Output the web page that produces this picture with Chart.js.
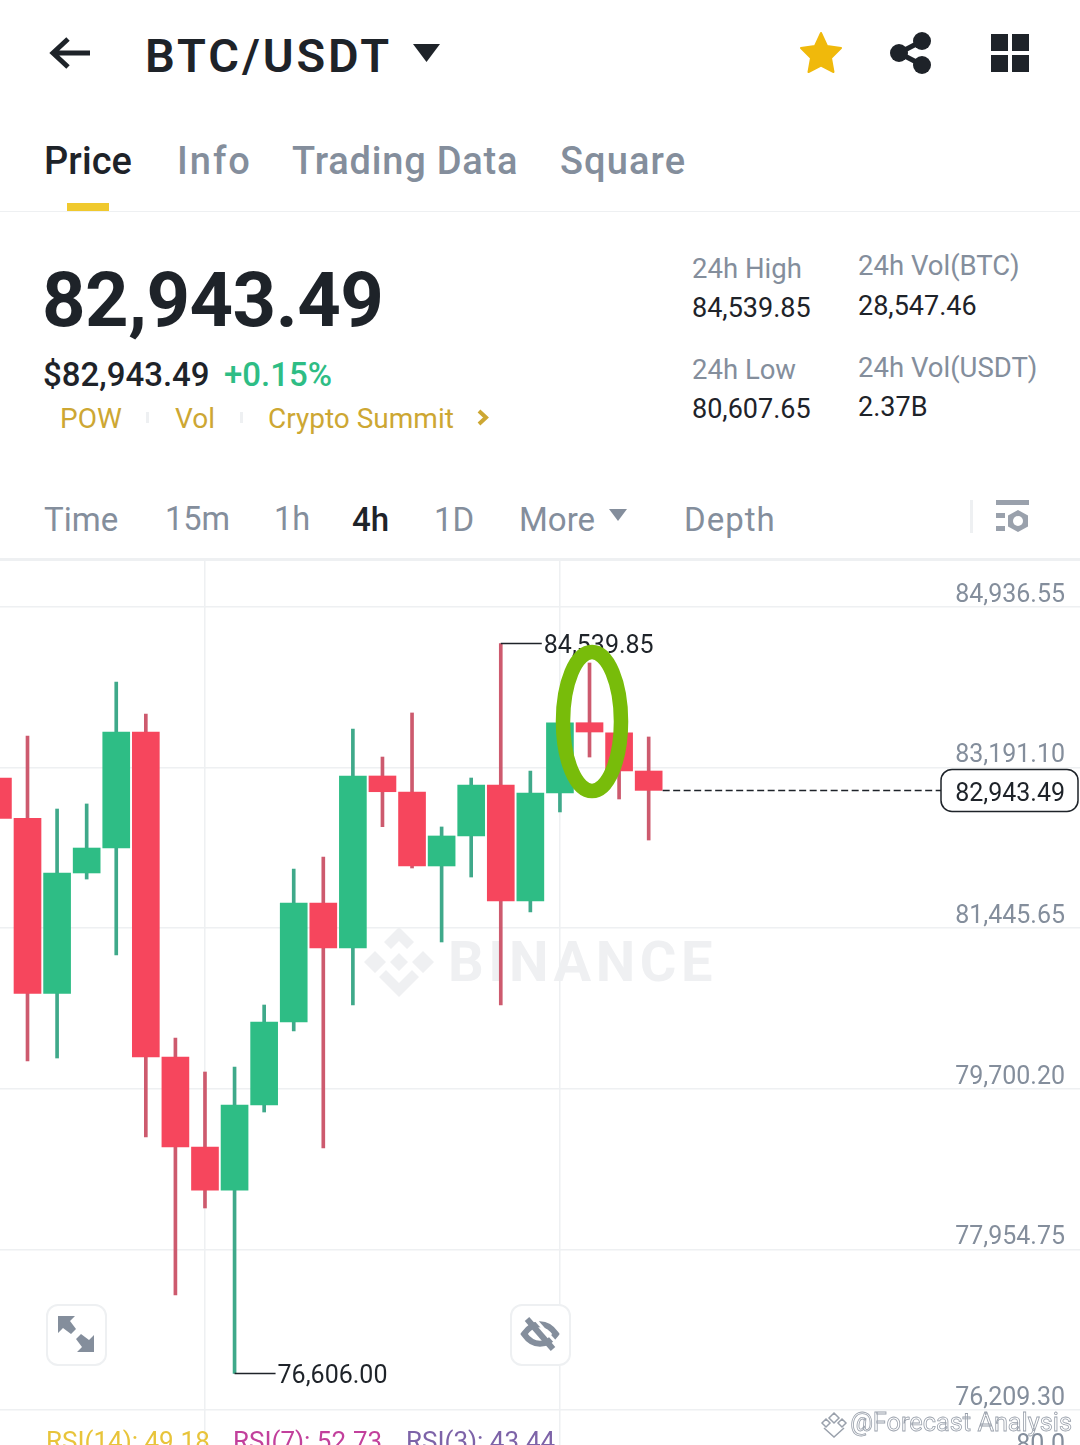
<!DOCTYPE html>
<html>
<head>
<meta charset="utf-8">
<title>BTC/USDT</title>
<script src="https://cdn.jsdelivr.net/npm/chart.js@4"></script>
<style>
    html, body { margin: 0; padding: 0; background: #fff; }
    #page { position: relative; width: 1080px; height: 1445px; overflow: hidden; font-family: Roboto, sans-serif; color: #1e2329; }
    .t { position: absolute; white-space: nowrap; line-height: 1; }
    .gray { color: #848e9c; }
    .gold { color: #cda733; }
    .rule { position: absolute; background: #eef0f2; }
    svg { position: absolute; overflow: visible; }
    #wrap { position: absolute; left: 0; top: 560px; width: 1080px; height: 885px; }
    .btn { position: absolute; width: 57px; height: 58px; top: 1304px; border: 2px solid #eef0f2; border-radius: 12px; background: #fff; }
</style>
</head>
<body>
<div id="page">
    <!-- top bar -->
    <svg style="left:48px;top:36px" width="44" height="34"><path d="M42 17H5M20 3L5 17l15 14" fill="none" stroke="#1e2329" stroke-width="5"/></svg>
    <div class="t" style="left:145px;top:32px;font-size:47px;font-weight:600;letter-spacing:2.900px">BTC/USDT</div>
    <svg style="left:413px;top:44px" width="27" height="18"><path d="M0 0h27L13.500 18z" fill="#1e2329"/></svg>
    <svg style="left:800px;top:31px" width="42" height="42"><path d="M21 2l6 13 14 2-10 10 2.500 14L21 34.500 8.500 41 11 27 1 17l14-2z" fill="#f0b90b" stroke="#f0b90b" stroke-width="2" stroke-linejoin="round"/></svg>
    <svg style="left:890px;top:31px" width="42" height="44"><path d="M32 10L9 22l23 12" fill="none" stroke="#1e2329" stroke-width="5"/><circle cx="32" cy="10" r="9" fill="#1e2329"/><circle cx="9" cy="22" r="9" fill="#1e2329"/><circle cx="32" cy="34" r="9" fill="#1e2329"/></svg>
    <svg style="left:991px;top:34px" width="38" height="38"><path d="M0 0h17v17H0zM21 0h17v17H21zM0 21h17v17H0zM21 21h17v17H21z" fill="#1e2329"/></svg>

    <!-- tabs -->
    <div class="t" style="left:44px;top:142px;font-size:38px;font-weight:500;letter-spacing:.1px">Price</div>
    <div class="t gray" style="left:177px;top:142px;font-size:38px;font-weight:500;letter-spacing:2px">Info</div>
    <div class="t gray" style="left:292px;top:142px;font-size:38px;font-weight:500;letter-spacing:.8px">Trading Data</div>
    <div class="t gray" style="left:560px;top:142px;font-size:38px;font-weight:500;letter-spacing:1.100px">Square</div>
    <div style="position:absolute;left:67px;top:203px;width:42px;height:8px;background:#f0c92e"></div>
    <div class="rule" style="left:0;top:211px;width:1080px;height:1px"></div>

    <!-- price block -->
    <div class="t" style="left:42px;top:262px;font-size:76px;font-weight:700;letter-spacing:-.5px">82,943.49</div>
    <div class="t" style="left:43px;top:358px;font-size:33px;font-weight:500">$82,943.49</div>
    <div class="t" style="left:224px;top:358px;font-size:33px;font-weight:500;color:#2ebd85">+0.15%</div>
    <div class="t gold" style="left:60px;top:405px;font-size:28px">POW</div>
    <div class="t gold" style="left:175px;top:405px;font-size:28px">Vol</div>
    <div class="t gold" style="left:268px;top:405px;font-size:28px">Crypto Summit</div>
    <div class="rule" style="left:146px;top:412px;width:3px;height:11px"></div>
    <div class="rule" style="left:240px;top:412px;width:3px;height:11px"></div>
    <svg style="left:477px;top:409px" width="12" height="17"><path d="M2 2l7 6.500-7 6.500" fill="none" stroke="#cda733" stroke-width="4"/></svg>

    <!-- 24h stats -->
    <div class="t gray" style="left:692px;top:255px;font-size:27.500px">24h High</div>
    <div class="t" style="left:692px;top:295px;font-size:27px">84,539.85</div>
    <div class="t gray" style="left:692px;top:356px;font-size:27.500px">24h Low</div>
    <div class="t" style="left:692px;top:396px;font-size:27px">80,607.65</div>
    <div class="t gray" style="left:858px;top:252px;font-size:27.500px">24h Vol(BTC)</div>
    <div class="t" style="left:858px;top:293px;font-size:27px">28,547.46</div>
    <div class="t gray" style="left:858px;top:354px;font-size:27.500px">24h Vol(USDT)</div>
    <div class="t" style="left:858px;top:394px;font-size:27px">2.37B</div>

    <!-- interval row -->
    <div class="t gray" style="left:44px;top:503px;font-size:33px">Time</div>
    <div class="t gray" style="left:165px;top:503px;font-size:32.500px">15m</div>
    <div class="t gray" style="left:274px;top:503px;font-size:32.500px">1h</div>
    <div class="t" style="left:352px;top:503px;font-size:33px;font-weight:500">4h</div>
    <div class="t gray" style="left:434px;top:503px;font-size:33px">1D</div>
    <div class="t gray" style="left:519px;top:503px;font-size:33px">More</div>
    <svg style="left:609px;top:509px" width="18" height="12"><path d="M0 0h18L9 12z" fill="#848e9c"/></svg>
    <div class="t gray" style="left:684px;top:503px;font-size:33px;letter-spacing:1px">Depth</div>
    <div class="rule" style="left:970px;top:500px;width:3px;height:33px"></div>
    <svg style="left:996px;top:500px" width="34" height="34"><path d="M0 0h33v5H0zM0 13h9v5H0zM0 26h9v5H0z" fill="#9aa1ac"/><path d="M22 10l10 5.500v11L22 32l-10-5.500v-11z" fill="#9aa1ac"/><circle cx="22" cy="21" r="5" fill="#fff"/></svg>
    <div class="rule" style="left:0;top:558px;width:1080px;height:3px"></div>

    <!-- watermark under the candles -->
    <svg style="left:364px;top:927px" width="70" height="70" fill="#eff0f2"><path d="M35 0l15 15-7 7-8-8-8 8-7-7zM11 24l11 11-11 11L0 35zM59 24l11 11-11 11-11-11zM35 26l9 9-9 9-9-9zM15 50l7-7 13 13 13-13 7 7-20 20z"/></svg>
    <div class="t" style="left:448px;top:934px;font-size:56px;font-weight:700;letter-spacing:4.500px;color:#eff0f2">BINANCE</div>

    <div id="wrap"><canvas id="myChart"></canvas></div>

    <!-- hand drawn mark on the doji -->
    <svg style="left:0;top:0" width="1080" height="1445"><ellipse cx="592" cy="721.500" rx="29" ry="69.500" fill="none" stroke="#78bc0a" stroke-width="14.500"/></svg>

    <!-- chart buttons -->
    <div class="btn" style="left:46px"></div>
    <svg style="left:58px;top:1316px" width="36" height="36" fill="#848e9c"><path d="M0 0h17l-5 5 6 8-5 5-8-6-5 5zM36 36H19l5-5-6-8 5-5 8 6 5-5z"/></svg>
    <div class="btn" style="left:510px"></div>
    <svg style="left:521px;top:1317px" width="38" height="34"><path d="M3 17C12 4 26 4 35 17 26 30 12 30 3 17z" fill="none" stroke="#848e9c" stroke-width="6"/><path d="M6 2l26 30" stroke="#848e9c" stroke-width="6"/><path d="M13 1L37 28" stroke="#fff" stroke-width="3"/></svg>

    <!-- RSI pane, cut off by the bottom of the screen -->
    <div class="t" style="left:46px;top:1428px;font-size:26px;color:#e8c43a">RSI(14): 49.18</div>
    <div class="t" style="left:233px;top:1428px;font-size:26px;color:#c2409c">RSI(7): 52.73</div>
    <div class="t" style="left:406px;top:1428px;font-size:26px;color:#7d63a8">RSI(3): 43.44</div>
    <div class="t gray" style="right:15px;top:1431px;font-size:25px">80.0</div>
    <svg style="left:820px;top:1412px" width="28" height="26" fill="none" stroke="#9aa1ac" stroke-width="1.500"><path d="M14 1l5 5-5 5-5-5zM6 7l4 4-4 4-4-4zM22 7l4 4-4 4-4-4zM4 16l10 9 10-9"/></svg>
    <div class="t" style="right:8px;top:1410px;font-size:25.300px;color:#fff;-webkit-text-stroke:0.8px #9aa1ac">@Forecast Analysis</div>
</div>
<script>
const candles = ['c1','c2','c3','c4','c5','c6','c7','c8','c9','c10','c11','c12','c13','c14','c15','c16','c17','c18','c19','c20','c21','c22','c23'];
const opens = [83078,82640,80736,82046,82317,83578,80046,79068,78600,79524,80426,81720,81231,83100,82926,82122,82448,83002,81741,82915,83679,83570,83154];
const closes = [82640,80736,82046,82317,83578,80046,79068,78600,79524,80426,81720,81231,83100,82929,82122,82448,83002,81741,82915,83679,83578,83154,82943.49];
const highs = [83078,83535,82741,82796,84121,83774,80252,79883,79937,80611,82089,82220,83611,83306,83785,82546,83078,84539.85,83154,83679,84328,83570,83524];
const lows = [82640,80002,80035,81980,81155,79177,77459,78405,76606,79448,80329,79057,80611,82549,82100,81296,82002,80611,81622,82709,83306,82850,82404];
const priceTicks = [84936.55,83191.10,81445.65,79700.20,77954.75,76209.30];
const timeGrid = [7,19];
const lastPrice = 82943.49;
const highLabel = 84539.85;
const lowLabel = 76606.00;

function fmt(v) {
    return v.toLocaleString('en-US', {minimumFractionDigits: 2, maximumFractionDigits: 2});
}

function isUp(i) {
    return closes[i] >= opens[i];
}

// high/low callouts and the last price tag
const priceMarks = {
    id: 'priceMarks',
    afterDatasetsDraw(chart) {
        const {ctx, scales: {x, y}} = chart;
        ctx.save();
        ctx.font = '25px Roboto';
        ctx.textBaseline = 'middle';

        // callouts
        [[highLabel, highs.indexOf(highLabel)], [lowLabel, lows.indexOf(lowLabel)]].forEach(([v, i]) => {
            const px = x.getPixelForValue(i);
            const py = y.getPixelForValue(v);
            ctx.strokeStyle = '#1e2329';
            ctx.lineWidth = 1.5;
            ctx.beginPath();
            ctx.moveTo(px, py);
            ctx.lineTo(px + 41, py);
            ctx.stroke();
            ctx.fillStyle = '#1e2329';
            ctx.textAlign = 'left';
            ctx.fillText(fmt(v), px + 43, py + 3);
        });

        // last price
        const py = y.getPixelForValue(lastPrice);
        const px = x.getPixelForValue(closes.length - 1) + 14;
        ctx.setLineDash([7, 3.5]);
        ctx.lineWidth = 1.5;
        ctx.beginPath();
        ctx.moveTo(px, py);
        ctx.lineTo(941, py);
        ctx.stroke();
        ctx.setLineDash([]);
        ctx.fillStyle = '#fff';
        ctx.beginPath();
        ctx.roundRect(941, py - 21, 137, 42, 11);
        ctx.fill();
        ctx.stroke();
        ctx.fillStyle = '#1e2329';
        ctx.textAlign = 'right';
        ctx.fillText(fmt(lastPrice), 1065, py + 4);
        ctx.restore();
    }
};

new Chart(document.getElementById('myChart'), {
    type: 'bar',
    data: {
        labels: candles,
        datasets: [
            {
                label: 'Body',
                data: candles.map((c, i) => ({x: i, y: [opens[i], closes[i]]})),
                backgroundColor: candles.map((c, i) => isUp(i) ? '#2ebd85' : '#f6465d'),
                barThickness: 27,
                grouped: false,
            },
            {
                label: 'Wick',
                data: candles.map((c, i) => ({x: i, y: [lows[i], highs[i]]})),
                backgroundColor: candles.map((c, i) => isUp(i) ? '#3fa98a' : '#cd5a6e'),
                barThickness: 3,
                grouped: false,
            },
        ]
    },
    options: {
        responsive: true,
        maintainAspectRatio: false,
        animation: false,
        layout: {padding: 0},
        plugins: {
            legend: {display: false},
            tooltip: {enabled: false},
        },
        scales: {
            x: {
                type: 'linear',
                offset: false,
                min: 0.07,
                max: 36.582,
                afterBuildTicks(axis) {
                    axis.ticks = timeGrid.map(v => ({value: v}));
                },
                ticks: {display: false},
                grid: {color: '#eef0f2', lineWidth: 1.5, drawTicks: false, offset: false},
                border: {display: false},
            },
            y: {
                position: 'right',
                min: 75829.2,
                max: 85447.3,
                afterBuildTicks(axis) {
                    axis.ticks = priceTicks.map(v => ({value: v}));
                },
                afterFit(axis) {
                    // labels sit inside the plot, the axis takes no room
                    axis.width = 0;
                    axis.paddingTop = 0;
                    axis.paddingBottom = 0;
                },
                ticks: {
                    mirror: true,
                    padding: -15,
                    labelOffset: -11.5,
                    color: '#848e9c',
                    font: {family: 'Roboto', size: 25},
                    callback: v => fmt(v),
                },
                grid: {color: '#eef0f2', lineWidth: 1.5, drawTicks: false},
                border: {display: false},
            },
        }
    },
    plugins: [priceMarks]
});
</script>
</body>
</html>
